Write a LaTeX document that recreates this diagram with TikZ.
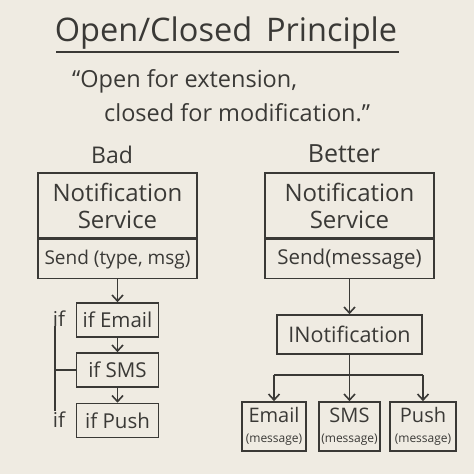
\documentclass[tikz,border=0pt]{standalone}
\usepackage{fontspec}
\setmainfont{Open Sans}
\usetikzlibrary{arrows.meta}
\definecolor{paper}{HTML}{EFEBE2}
\definecolor{ink}{HTML}{3A3936}

\begin{document}
\begin{tikzpicture}[x=1pt, y=-1pt, line width=1.6pt, draw=ink, text=ink,
  box/.style={draw, inner sep=0pt, align=center},
  arr/.style={-{Straight Barb[length=6pt, width=11pt]}}]
% Paper
\fill[paper] (0,0) rectangle (474,474);
\useasboundingbox (0,0) rectangle (474,474);

% Title and quote
\node (title) at (226,33) {\fontsize{32.5}{38}\selectfont Open/Closed\, Principle};
\draw (56,52) -- (399,52);
\node[anchor=west] (quote1) at (68,81) {\fontsize{23.5}{28}\selectfont “Open for extension,};
\node[anchor=west] (quote2) at (100,113) {\fontsize{23.5}{28}\selectfont closed for modification.”};

% Bad
\node (bad) at (112,155) {\fontsize{23}{28}\selectfont Bad};
\node[box, minimum width=159, minimum height=65, font=\fontsize{24}{27}\selectfont] (badsvc) at (117.5,205.5)
  {Notification\\ Service};
\node[box, minimum width=159, minimum height=39, anchor=north, font=\fontsize{19}{22}\selectfont] (badsend) at (badsvc.south)
  {Send (type, msg)};
\foreach \name/\y/\txt in {email/320/Email, sms/370/SMS, push/420.5/Push} {
  \node[box, minimum width=82, minimum height=34, font=\fontsize{20.5}{23}\selectfont] (if\name) at (117.5,\y)
    {if \txt};
}
\draw[arr] (badsend) -- (ifemail);
\draw[arr] (ifemail) -- (ifsms);
\draw[arr] (ifsms) -- (ifpush);
% the if chain
\node[font=\fontsize{20.5}{23}\selectfont] (iftop) at (59,319) {if};
\node[font=\fontsize{20.5}{23}\selectfont] (ifbot) at (59,420) {if};
\coordinate (chaintop) at (55,326);
\coordinate (chainbot) at (55,411);
\draw (chaintop) -- (chainbot);
\draw (ifsms.west) -- (ifsms.west -| chaintop);

% Better
\node (better) at (344,154) {\fontsize{25}{28}\selectfont Better};
\node[box, minimum width=169, minimum height=65, font=\fontsize{24}{27}\selectfont] (goodsvc) at (349.5,205.5)
  {Notification\\ Service};
\node[box, minimum width=169, minimum height=39, anchor=north, font=\fontsize{20.5}{22}\selectfont] (goodsend) at (goodsvc.south)
  {Send(message)};
\node[box, minimum width=145, minimum height=39, font=\fontsize{21.5}{24}\selectfont] (inotif) at (349.5,334.5)
  {INotification};
\draw[arr] (goodsend) -- (inotif);
\foreach \name/\x/\w/\txt in {email/274/64/Email, sms/349.5/61/SMS, push/423/66/Push} {
  \node[box, minimum width=\w, minimum height=49, font=\fontsize{20}{20}\selectfont] (\name) at (\x,426.5)
    {\txt\\ {\fontsize{12}{14}\selectfont (message)}};
}
\coordinate (bus) at (349.5,375);
\draw (inotif) -- (bus);
\draw (email.north |- bus) -- (push.north |- bus);
\foreach \name in {email, sms, push} {
  \draw[arr] (\name.north |- bus) -- (\name.north);
}

\end{tikzpicture}
\end{document}
